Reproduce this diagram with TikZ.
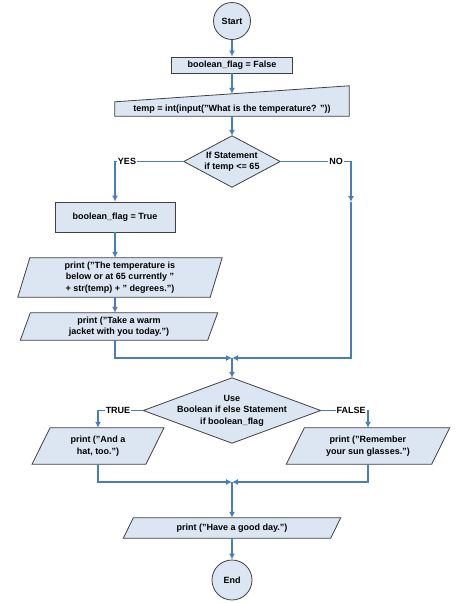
\documentclass[tikz,border=0pt]{standalone}
\usepackage{fontspec}
\setmainfont{Liberation Sans}
\usetikzlibrary{arrows.meta,backgrounds,calc}
\definecolor{fillc}{HTML}{DCE6F2}
\definecolor{linec}{HTML}{4A7EBB}
\definecolor{edgec}{HTML}{404040}
\newcommand\parashape[2]{%
  \path[shp] ($(#1.north west)+(#2,0)$) -- ($(#1.north east)+(#2,0)$) --
    ($(#1.south east)+(-#2,0)$) -- ($(#1.south west)+(-#2,0)$) -- cycle;}
\begin{document}
\begin{tikzpicture}[x=1pt,y=-1pt,
  txt/.style={font=\bfseries\fontsize{9}{11.5}\selectfont, align=center, inner sep=0pt, text=black},
  shp/.style={draw=edgec, fill=fillc, line width=0.8pt},
  conn/.style={draw=linec, line width=1.4pt},
  arr/.style={conn, -{Latex[length=6pt,width=6pt]}},
  lbl/.style={txt, fill=white, inner sep=1pt}]
\useasboundingbox (0,0) rectangle (474,603);

% nodes
\node[txt, circle, shp, minimum size=37pt] (start) at (232,21) {Start};
\node[txt, shp, minimum width=121pt, minimum height=16pt] (f1) at (232,65) {boolean\_flag = False};
\node[txt, minimum width=234pt, minimum height=30pt, text height=22pt, text depth=2pt] (inp) at (232,101) {temp = int(input("What is the temperature? "))};
\coordinate (inptop) at ($(inp.north)+(0,8)$);
\node[txt, minimum width=96pt, minimum height=51pt] (d1) at (232,161.5) {If Statement\\if temp <= 65};
\node[txt, shp, minimum width=120pt, minimum height=30pt] (f2) at (115,217) {boolean\_flag = True};
\node[txt, minimum width=192pt, minimum height=39pt] (p1) at (120,277.5) {print ("The temperature is\\below or at 65 currently "\\+ str(temp) + " degrees.")};
\node[txt, minimum width=187pt, minimum height=27pt] (p2) at (119,326.5) {print ("Take a warm\\jacket with you today.")};
\coordinate (j1) at (232,358);
\coordinate (nob) at (351,202);
\node[txt, minimum width=177pt, minimum height=65pt] (d2) at (232,410.5) {Use\\Boolean if else Statement\\if boolean\_flag};
\node[txt, minimum width=113.5pt, minimum height=36pt] (p3) at (98,446) {print ("And a\\hat, too.")};
\node[txt, minimum width=145pt, minimum height=36pt] (p4) at (368,446) {print ("Remember\\your sun glasses.")};
\coordinate (j2) at (232,482);
\node[txt, minimum width=207pt, minimum height=20pt] (p5) at (232,528) {print ("Have a good day.")};
\node[txt, circle, shp, minimum size=40pt] (end) at (232,580) {End};

% shapes behind text
\begin{scope}[on background layer]
  \path[shp] (inp.south west) -- (inp.south east) -- (inp.north east) -- ($(inp.north west)+(0,16)$) -- cycle;
  \path[shp] (d1.north) -- (d1.east) -- (d1.south) -- (d1.west) -- cycle;
  \path[shp] (d2.north) -- (d2.east) -- (d2.south) -- (d2.west) -- cycle;
  \parashape{p1}{6}
  \parashape{p2}{5}
  \parashape{p3}{9}
  \parashape{p4}{9}
  \parashape{p5}{5}
\end{scope}

% connectors
\draw[arr] (start.south) -- (f1.north);
\draw[arr] (f1.south) -- (inptop);
\draw[arr] (inp.south) -- (d1.north);
\draw[arr] (d1.west) -| (f2.north);
\draw[arr] (d1.east) -| (nob);
\draw[arr] (nob) |- (j1);
\draw[arr] (f2.south) -- (f2.south |- p1.north);
\draw[arr] (p1.south -| f2.south) -- (p2.north -| f2.south);
\draw[arr] (p2.south -| f2.south) |- (j1);
\draw[arr] (j1) -- (d2.north);
\draw[arr] (d2.west) -| (p3.north);
\draw[arr] (d2.east) -| (p4.north);
\draw[arr] (p3.south) |- (j2);
\draw[arr] (p4.south) |- (j2);
\draw[arr] (j2) -- (p5.north);
\draw[arr] (p5.south) -- (end.north);

% labels
\node[lbl] (yes) at (127,161.5) {YES};
\node[lbl] (no) at (336,161.5) {NO};
\node[lbl] (true) at (118,410.5) {TRUE};
\node[lbl] (false) at (351,410.5) {FALSE};
\end{tikzpicture}
\end{document}
